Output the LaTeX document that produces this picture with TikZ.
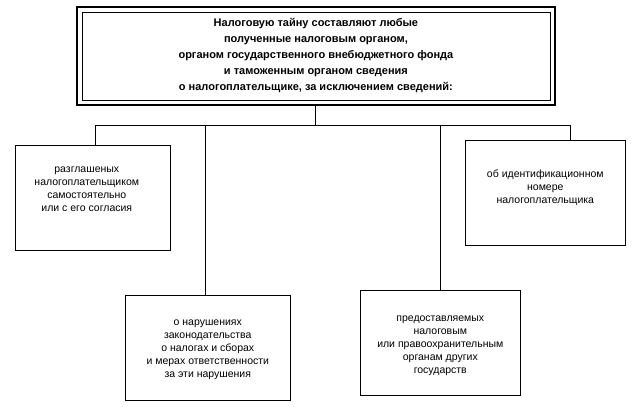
\documentclass[tikz,border=0pt]{standalone}
\usepackage{fontspec}
\setmainfont{Liberation Sans}
\begin{document}
\begin{tikzpicture}[x=1pt,y=-1pt,
  box/.style={draw,line width=0.6pt,anchor=north west,inner sep=0pt},
  txt/.style={align=center,font=\fontsize{10.5}{13}\selectfont}]
\useasboundingbox (0,0) rectangle (637,415);
\node[draw,line width=1.8pt,minimum width=478,minimum height=98,anchor=north west] (top) at (76,6) {};
\node[draw,line width=0.5pt,minimum width=468,minimum height=88,align=center,font=\bfseries\fontsize{11}{16}\selectfont] (toptext) at (top.center) {Налоговую тайну составляют любые\\полученные налоговым органом,\\органом государственного внебюджетного фонда\\и таможенным органом сведения\\о налогоплательщике, за исключением сведений:};
\node[box,minimum width=155,minimum height=105] (a) at (15,145) {};
\node[txt] (at) at ([xshift=-6,yshift=9]a.center) {разглашеных\\налогоплательщиком\\самостоятельно\\или с его согласия};
\node[box,minimum width=160,minimum height=105] (d) at (465,140) {};
\node[txt] (dt) at ([yshift=5]d.center) {об идентификационном\\номере\\налогоплательщика};
\node[box,minimum width=165,minimum height=105] (b) at (125,295) {};
\node[txt] (bt) at ([yshift=-2]b.center) {о нарушениях\\законодательства\\о налогах и сборах\\и мерах ответственности\\за эти нарушения};
\node[box,minimum width=160,minimum height=105] (c) at (360,290) {};
\node[txt] (ct) at ([yshift=-3]c.center) {предоставляемых\\налоговым\\или правоохранительным\\органам других\\государств};
\coordinate (h) at (315,125);
\draw[line width=0.6pt] (top.south -| h) -- (h);
\draw[line width=0.6pt] (95,125) coordinate (l) -- (570,125) coordinate (r);
\draw[line width=0.6pt] (l) -- (l |- a.north);
\draw[line width=0.6pt] (205,125) -- (205,295);
\draw[line width=0.6pt] (440,125) -- (440,290);
\draw[line width=0.6pt] (r) -- (r |- d.north);
\end{tikzpicture}
\end{document}
